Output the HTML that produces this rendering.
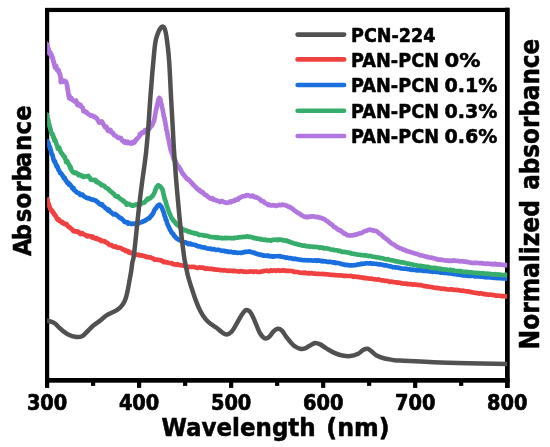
<!DOCTYPE html>
<html><head><meta charset="utf-8"><title>UV-vis absorbance</title>
<style>
html,body{margin:0;padding:0;background:#fff;}
body{width:550px;height:447px;overflow:hidden;}
svg{display:block;}
text{font-family:"DejaVu Sans","Liberation Sans",sans-serif;font-weight:bold;fill:#000;stroke:#000;stroke-width:0.55px;stroke-linejoin:round;}
</style></head><body>
<svg width="550" height="447" viewBox="0 0 550 447">
<rect width="550" height="447" fill="#fff"/>
<defs><clipPath id="c"><rect x="47.1" y="8" width="460.1" height="374"/></clipPath></defs>
<rect x="47.1" y="9.95" width="460.1" height="370.35" fill="none" stroke="#000" stroke-width="4.2"/>
<line x1="45" y1="380.35" x2="509.6" y2="380.35" stroke="#000" stroke-width="4.5"/>
<line x1="507.35" y1="7.85" x2="507.35" y2="387.9" stroke="#000" stroke-width="4.6"/>
<g stroke="#000" stroke-width="4.2"><line x1="47.10" y1="380.3" x2="47.10" y2="387.9"/><line x1="93.11" y1="380.3" x2="93.11" y2="385.9"/><line x1="139.12" y1="380.3" x2="139.12" y2="387.9"/><line x1="185.13" y1="380.3" x2="185.13" y2="385.9"/><line x1="231.14" y1="380.3" x2="231.14" y2="387.9"/><line x1="277.15" y1="380.3" x2="277.15" y2="385.9"/><line x1="323.16" y1="380.3" x2="323.16" y2="387.9"/><line x1="369.17" y1="380.3" x2="369.17" y2="385.9"/><line x1="415.18" y1="380.3" x2="415.18" y2="387.9"/><line x1="461.19" y1="380.3" x2="461.19" y2="385.9"/><line x1="507.20" y1="380.3" x2="507.20" y2="387.9"/></g>
<g clip-path="url(#c)" fill="none" stroke-width="4.5" stroke-linejoin="round" stroke-linecap="butt">
<path d="M46.5,197.6 L46.7,198.2 L46.9,200.5 L47.2,199.8 L47.5,199.8 L47.8,201.6 L48.2,202.7 L48.5,204.0 L48.9,204.4 L49.3,206.4 L49.7,206.9 L50.1,208.9 L50.5,208.8 L51.0,209.2 L51.5,210.7 L52.0,211.4 L52.5,211.1 L53.0,212.7 L53.6,212.8 L54.1,214.5 L54.6,214.4 L55.1,215.5 L55.7,215.8 L56.3,217.1 L56.9,218.7 L57.5,219.5 L58.1,219.2 L58.8,219.3 L59.4,221.0 L60.1,221.0 L60.9,221.4 L61.8,222.6 L62.6,222.1 L63.5,223.4 L64.4,224.1 L65.3,223.9 L66.2,223.8 L66.9,224.6 L67.6,226.1 L68.3,226.2 L69.0,227.3 L69.7,227.4 L70.3,227.9 L71.0,228.5 L71.6,229.0 L72.2,229.6 L73.1,230.6 L73.8,231.4 L74.5,231.2 L75.3,231.1 L76.3,231.6 L77.0,231.7 L77.8,231.4 L78.7,232.6 L79.6,232.6 L80.5,234.1 L81.5,233.5 L82.4,233.1 L83.4,234.2 L84.3,234.4 L85.2,235.1 L86.1,235.2 L87.0,236.3 L87.9,235.6 L88.8,236.2 L89.7,236.2 L90.6,236.5 L91.5,236.3 L92.4,237.5 L93.3,237.0 L94.1,238.0 L95.0,238.4 L95.8,238.7 L96.7,238.1 L97.6,239.2 L98.5,239.1 L99.4,239.8 L100.4,239.9 L101.2,241.1 L102.0,240.6 L102.8,240.9 L103.6,241.5 L104.5,241.2 L105.3,241.9 L106.2,242.4 L107.1,243.0 L107.9,243.3 L108.8,244.5 L109.7,245.0 L110.5,245.2 L111.3,245.0 L112.2,245.5 L113.0,246.4 L113.9,246.7 L114.7,246.6 L115.6,246.4 L116.4,247.3 L117.2,247.6 L118.1,247.6 L118.9,247.8 L119.8,247.7 L120.6,247.9 L121.4,248.3 L122.3,249.2 L123.1,249.6 L123.9,249.6 L124.8,250.1 L125.6,251.1 L126.5,250.6 L127.3,251.0 L128.1,251.1 L128.9,252.5 L129.8,252.2 L130.6,253.0 L131.5,253.2 L132.4,253.0 L133.3,253.6 L134.2,253.8 L135.1,254.1 L136.0,254.3 L136.9,254.7 L137.7,254.9 L138.6,254.7 L139.5,255.4 L140.4,255.2 L141.3,255.2 L142.2,255.6 L143.0,255.7 L143.9,256.0 L144.8,256.0 L145.7,256.8 L146.6,257.1 L147.4,256.8 L148.3,257.5 L149.2,257.4 L150.1,257.4 L151.0,257.5 L151.9,258.2 L152.8,258.4 L153.7,258.7 L154.6,259.8 L155.5,259.7 L156.4,259.6 L157.4,259.5 L158.3,259.9 L159.2,260.1 L160.1,260.4 L161.0,260.1 L161.9,261.0 L162.8,261.0 L163.8,262.2 L164.7,261.9 L165.6,262.3 L166.5,262.5 L167.4,262.4 L168.4,262.8 L169.3,262.9 L170.2,263.1 L171.1,263.4 L172.0,263.1 L173.0,264.1 L173.9,264.2 L174.8,264.2 L175.7,264.8 L176.6,264.4 L177.5,264.1 L178.5,264.9 L179.4,264.9 L180.3,265.2 L181.2,265.3 L182.1,265.5 L183.1,265.5 L184.0,265.9 L184.9,266.3 L185.8,266.4 L186.7,266.8 L187.7,266.8 L188.6,266.8 L189.5,266.9 L190.4,267.0 L191.3,267.0 L192.2,266.8 L193.1,266.9 L194.0,266.8 L194.9,267.2 L195.9,267.5 L196.8,267.7 L197.7,267.9 L198.6,267.7 L199.5,267.3 L200.4,267.6 L201.3,267.9 L202.2,267.6 L203.1,267.8 L204.1,267.9 L205.0,268.7 L205.9,268.8 L206.8,268.4 L207.7,268.5 L208.7,268.7 L209.6,268.9 L210.5,268.9 L211.4,268.7 L212.3,268.8 L213.3,269.4 L214.2,269.3 L215.1,269.6 L216.0,269.5 L216.9,269.6 L217.8,269.7 L218.8,269.7 L219.7,270.1 L220.6,270.1 L221.5,270.0 L222.4,270.1 L223.4,270.5 L224.3,270.1 L225.2,270.4 L226.1,270.6 L227.0,270.8 L228.0,270.9 L228.9,270.5 L229.8,270.8 L230.7,270.7 L231.6,270.9 L232.5,270.9 L233.5,271.1 L234.4,270.8 L235.3,271.0 L236.2,271.2 L237.1,271.2 L238.0,271.4 L238.9,271.6 L239.8,271.2 L240.7,271.3 L241.7,271.0 L242.6,271.4 L243.5,271.7 L244.4,271.5 L245.4,271.7 L246.3,271.9 L247.2,271.7 L248.1,271.7 L249.0,271.8 L250.0,271.5 L250.9,271.4 L251.8,271.6 L252.8,271.6 L253.8,271.9 L254.8,271.5 L255.8,271.5 L256.7,271.5 L257.6,272.0 L258.5,272.0 L259.3,272.0 L260.0,271.9 L261.1,271.8 L262.0,271.5 L262.8,271.4 L263.5,271.1 L264.2,271.0 L265.0,270.8 L265.9,270.7 L266.8,270.6 L267.6,271.0 L268.7,271.1 L270.0,270.9 L270.7,270.3 L271.5,270.6 L272.4,270.8 L273.3,270.7 L274.2,270.3 L275.2,270.5 L276.2,271.0 L277.1,270.6 L278.1,270.3 L279.1,270.5 L280.0,270.8 L280.9,270.7 L281.8,270.4 L282.7,270.2 L283.6,270.6 L284.5,270.4 L285.5,270.8 L286.4,271.0 L287.3,270.9 L288.2,270.9 L289.1,270.9 L290.0,270.9 L290.9,271.0 L291.8,271.0 L292.7,271.1 L293.6,271.7 L294.5,271.9 L295.5,271.8 L296.4,272.0 L297.3,272.0 L298.2,272.2 L299.1,272.5 L300.0,272.6 L300.9,272.7 L301.8,272.8 L302.7,272.9 L303.6,272.7 L304.5,273.0 L305.5,272.7 L306.4,273.1 L307.3,273.2 L308.2,273.3 L309.1,273.0 L310.0,273.5 L310.9,273.3 L311.8,273.1 L312.7,273.5 L313.6,273.6 L314.5,273.4 L315.5,273.7 L316.4,273.8 L317.3,273.8 L318.2,273.7 L319.1,274.0 L320.0,274.0 L320.9,274.0 L321.8,273.9 L322.7,274.0 L323.6,274.1 L324.5,274.0 L325.5,274.1 L326.4,274.5 L327.3,274.4 L328.2,274.5 L329.1,274.5 L330.0,274.7 L330.9,274.8 L331.8,274.8 L332.7,274.8 L333.6,275.0 L334.5,275.1 L335.4,275.0 L336.4,275.2 L337.3,275.3 L338.2,275.4 L339.1,275.4 L340.0,275.3 L340.9,275.5 L341.8,275.5 L342.8,275.6 L343.7,275.9 L344.6,275.9 L345.5,275.8 L346.4,275.9 L347.3,276.0 L348.3,276.0 L349.2,276.0 L350.1,276.0 L351.0,275.8 L351.9,276.2 L352.8,276.6 L353.7,276.4 L354.6,276.8 L355.6,276.6 L356.5,276.7 L357.4,277.0 L358.3,276.9 L359.2,277.0 L360.1,277.4 L361.0,277.3 L361.9,277.6 L362.8,278.0 L363.8,277.6 L364.7,278.0 L365.6,278.3 L366.5,278.1 L367.4,278.2 L368.4,278.5 L369.3,278.6 L370.2,278.9 L371.1,278.6 L372.0,278.8 L373.0,279.1 L373.9,279.2 L374.8,279.2 L375.7,279.5 L376.6,279.6 L377.5,279.5 L378.5,279.4 L379.4,279.8 L380.3,280.0 L381.2,280.2 L382.1,280.4 L383.1,280.3 L384.0,280.5 L384.9,280.9 L385.8,280.8 L386.7,280.8 L387.7,281.0 L388.6,281.4 L389.5,281.8 L390.4,281.8 L391.3,281.6 L392.2,281.9 L393.1,281.9 L394.0,282.2 L394.9,282.3 L395.9,282.4 L396.8,282.4 L397.7,282.8 L398.6,282.6 L399.5,282.8 L400.4,282.8 L401.3,283.2 L402.2,283.5 L403.1,283.5 L404.1,283.6 L405.0,283.6 L405.9,283.5 L406.8,283.8 L407.7,284.2 L408.7,284.0 L409.6,284.2 L410.5,284.0 L411.4,284.3 L412.3,284.6 L413.3,284.6 L414.2,284.3 L415.1,284.6 L416.0,284.6 L416.9,284.9 L417.8,284.9 L418.8,285.0 L419.7,285.1 L420.6,285.1 L421.5,285.3 L422.4,285.6 L423.4,285.7 L424.3,286.1 L425.2,286.1 L426.1,286.5 L427.1,286.3 L428.0,286.5 L428.9,286.7 L429.8,286.7 L430.7,287.0 L431.6,287.1 L432.4,287.3 L433.1,287.4 L433.8,287.6 L434.6,287.8 L435.3,287.8 L436.1,288.0 L437.0,287.9 L438.0,288.1 L439.1,288.2 L440.4,288.5 L441.1,288.6 L441.8,288.6 L442.6,288.7 L443.4,288.8 L444.2,288.7 L445.1,289.1 L446.0,289.1 L446.9,289.2 L447.8,289.4 L448.7,289.6 L449.7,289.5 L450.7,289.4 L451.6,289.4 L452.6,289.6 L453.6,289.8 L454.6,289.8 L455.6,289.8 L456.5,289.8 L457.5,290.0 L458.4,290.3 L459.4,290.4 L460.3,290.5 L461.2,290.7 L462.1,290.8 L463.0,290.6 L463.9,291.0 L464.9,291.0 L465.8,291.3 L466.7,291.3 L467.6,291.4 L468.5,291.4 L469.4,291.7 L470.3,292.0 L471.2,292.1 L472.2,292.4 L473.1,292.4 L474.0,292.7 L474.9,292.8 L475.8,292.9 L476.7,293.1 L477.7,293.1 L478.6,293.5 L479.5,293.6 L480.4,293.2 L481.3,293.3 L482.3,293.7 L483.3,294.0 L484.2,293.9 L485.2,294.5 L486.2,294.3 L487.3,294.5 L488.3,294.7 L489.3,294.6 L490.3,294.6 L491.3,294.8 L492.3,294.9 L493.2,295.2 L494.2,295.0 L495.1,295.4 L496.0,295.7 L496.9,295.6 L497.7,295.6 L498.5,295.7 L499.2,295.8 L499.9,295.7 L500.6,295.7 L502.2,296.3 L503.5,296.1 L504.6,296.3 L505.6,296.4 L506.3,296.5 L507.0,296.5 L507.5,296.4 L508.0,296.5" stroke="#F14040" stroke-width="4.65"/><path d="M46.5,139.6 L46.7,140.4 L46.9,140.8 L47.2,141.9 L47.5,141.3 L47.9,142.0 L48.2,142.6 L48.6,143.6 L49.0,146.0 L49.4,146.7 L49.7,146.8 L50.1,147.6 L50.4,149.7 L50.6,149.3 L50.9,150.3 L51.2,151.8 L51.5,153.4 L51.7,154.4 L52.0,154.2 L52.3,154.4 L52.6,155.2 L52.9,157.1 L53.2,158.0 L53.5,159.6 L53.8,160.3 L54.1,161.2 L54.5,160.8 L54.9,161.4 L55.3,163.0 L55.7,164.2 L56.1,164.4 L56.5,166.4 L57.0,165.6 L57.4,167.1 L57.8,167.5 L58.2,169.1 L58.7,170.1 L59.1,170.4 L59.6,171.6 L60.1,173.1 L60.6,172.8 L61.1,173.4 L61.6,174.0 L62.1,175.2 L62.6,175.6 L63.1,175.9 L63.7,178.0 L64.2,177.9 L64.8,177.8 L65.4,180.1 L66.0,180.1 L66.6,181.7 L67.3,183.0 L67.9,182.6 L68.5,182.9 L69.1,184.8 L69.7,184.1 L70.2,184.7 L71.0,185.8 L71.6,186.5 L72.2,188.3 L72.8,188.3 L73.4,187.9 L74.2,190.2 L74.8,190.6 L75.5,190.7 L76.3,192.2 L77.0,192.5 L77.8,192.9 L78.6,192.8 L79.4,193.5 L80.3,194.9 L81.0,195.0 L81.8,194.9 L82.6,194.6 L83.4,195.9 L84.2,196.3 L85.0,197.1 L85.8,197.4 L86.7,197.9 L87.5,197.9 L88.3,198.3 L89.2,198.3 L90.1,198.9 L91.0,199.3 L91.9,199.6 L92.8,199.4 L93.7,200.1 L94.6,200.3 L95.5,200.3 L96.4,201.1 L97.1,201.9 L97.9,202.0 L98.6,203.3 L99.3,203.5 L100.1,204.3 L100.8,204.7 L101.6,204.2 L102.3,204.5 L103.0,206.1 L103.8,206.5 L104.5,206.9 L105.2,207.9 L106.0,208.5 L106.7,209.0 L107.4,209.0 L108.1,210.5 L108.9,209.7 L109.6,211.3 L110.3,211.5 L111.0,212.5 L111.8,212.8 L112.5,213.3 L113.3,214.4 L114.1,214.1 L115.0,213.9 L115.8,214.9 L116.7,214.8 L117.5,215.9 L118.3,216.4 L119.1,217.4 L119.9,217.6 L120.6,218.4 L121.5,218.3 L122.3,219.4 L123.0,219.9 L123.8,220.9 L124.5,221.9 L125.2,221.9 L125.9,222.3 L126.6,222.0 L127.5,222.4 L128.2,223.7 L129.0,222.8 L129.7,223.3 L130.6,223.8 L131.7,224.1 L132.5,223.6 L133.3,223.6 L134.2,223.7 L135.1,223.9 L136.1,223.4 L137.1,223.1 L138.1,223.4 L139.0,223.2 L139.9,222.5 L140.7,222.5 L141.6,222.1 L142.5,221.9 L143.4,221.0 L144.1,221.2 L144.9,220.8 L145.7,220.0 L146.4,219.9 L147.1,219.2 L147.8,218.7 L148.5,218.3 L149.1,218.5 L149.8,217.7 L150.4,216.4 L151.0,216.3 L151.5,215.2 L152.1,214.9 L152.6,214.1 L153.1,213.4 L153.5,212.5 L154.0,211.2 L154.4,210.2 L154.8,209.5 L155.3,208.8 L155.7,208.4 L156.1,208.2 L156.8,206.7 L157.5,206.4 L158.2,205.4 L158.8,205.1 L159.5,204.6 L160.0,205.1 L160.5,205.8 L161.0,206.2 L161.5,206.9 L162.1,208.2 L162.6,209.7 L162.9,210.4 L163.1,210.7 L163.4,211.8 L163.7,212.4 L163.9,213.2 L164.2,214.6 L164.5,215.4 L164.8,216.2 L165.0,217.0 L165.3,217.0 L165.6,218.9 L165.9,220.1 L166.2,219.8 L166.5,220.5 L166.9,222.0 L167.2,223.5 L167.6,224.3 L167.9,225.2 L168.3,225.6 L168.6,226.3 L169.0,227.5 L169.4,227.9 L169.8,229.3 L170.2,230.1 L170.7,230.6 L171.1,231.2 L171.6,232.6 L172.1,233.0 L172.6,233.2 L173.1,234.0 L173.6,234.5 L174.1,235.8 L174.7,236.1 L175.3,236.9 L176.0,237.7 L176.7,238.6 L177.4,238.5 L178.1,239.5 L178.9,239.8 L179.7,240.3 L180.5,240.2 L181.4,241.2 L182.3,241.7 L183.1,242.1 L183.9,242.5 L184.8,242.4 L185.7,242.4 L186.7,243.2 L187.6,243.0 L188.6,244.2 L189.6,243.8 L190.5,243.5 L191.5,244.4 L192.4,244.5 L193.3,244.6 L194.2,244.8 L195.1,245.1 L196.0,245.1 L196.9,245.9 L197.9,246.3 L198.8,246.3 L199.7,246.3 L200.6,246.7 L201.5,247.2 L202.4,247.3 L203.3,247.3 L204.2,247.6 L205.1,247.4 L206.1,248.0 L207.0,248.5 L207.9,248.5 L208.8,248.7 L209.7,248.8 L210.7,248.5 L211.6,249.2 L212.5,249.4 L213.4,249.1 L214.3,249.3 L215.3,249.7 L216.2,249.9 L217.1,249.7 L218.0,249.7 L218.9,249.8 L219.8,250.3 L220.8,250.6 L221.7,250.8 L222.6,250.7 L223.5,250.9 L224.5,250.9 L225.4,251.4 L226.4,251.4 L227.3,251.4 L228.3,251.9 L229.2,251.8 L230.1,251.8 L231.0,251.8 L231.9,252.1 L232.7,252.5 L233.8,252.2 L234.8,252.7 L235.7,252.4 L236.6,252.5 L237.5,252.9 L238.5,252.7 L239.4,252.7 L240.4,252.7 L241.2,253.0 L242.1,252.8 L242.9,252.4 L243.8,252.1 L244.7,252.1 L245.6,251.7 L246.4,251.8 L247.3,251.8 L248.2,251.7 L249.1,251.3 L250.0,251.9 L250.9,251.8 L251.7,252.3 L252.6,252.5 L253.5,252.6 L254.4,252.6 L255.3,253.5 L256.2,253.5 L257.2,253.9 L258.1,254.3 L259.0,254.6 L259.8,254.4 L260.7,255.1 L261.6,254.9 L262.5,255.1 L263.4,255.7 L264.3,255.6 L265.3,255.7 L266.2,255.6 L267.2,255.9 L268.2,255.6 L269.1,256.1 L270.0,256.4 L270.9,256.3 L271.8,256.1 L272.7,256.6 L273.7,256.4 L274.6,256.3 L275.6,256.3 L276.5,256.2 L277.5,256.2 L278.4,256.1 L279.4,256.3 L280.3,256.2 L281.2,256.7 L282.2,256.7 L283.1,256.9 L284.0,257.1 L285.0,257.2 L285.9,257.8 L286.8,257.5 L287.7,257.8 L288.7,258.1 L289.6,258.1 L290.5,258.1 L291.5,258.2 L292.4,258.8 L293.3,258.7 L294.3,259.0 L295.2,258.7 L296.1,259.0 L297.1,259.3 L298.0,259.4 L298.9,259.6 L299.9,259.5 L300.8,259.9 L301.7,259.9 L302.6,260.1 L303.6,260.2 L304.5,260.1 L305.4,260.2 L306.4,260.3 L307.3,260.2 L308.3,260.4 L309.2,260.3 L310.2,260.2 L311.1,260.4 L312.0,260.5 L313.0,260.6 L313.9,260.6 L314.8,260.4 L315.6,260.4 L316.5,260.8 L317.5,260.6 L318.5,260.4 L319.4,260.5 L320.3,260.7 L321.2,261.2 L322.1,260.9 L323.0,261.4 L323.9,261.2 L324.8,261.3 L325.7,261.3 L326.6,261.8 L327.5,262.0 L328.4,261.8 L329.3,262.0 L330.2,261.8 L331.1,262.0 L332.0,262.3 L332.9,262.4 L333.9,262.6 L334.8,262.3 L335.7,263.1 L336.7,263.0 L337.5,262.9 L338.4,263.1 L339.3,263.2 L340.2,263.4 L341.1,264.0 L342.1,264.1 L343.0,264.4 L343.9,264.6 L344.8,265.0 L345.7,264.7 L346.5,264.7 L347.3,265.0 L348.1,265.3 L349.1,265.4 L350.1,265.3 L351.0,265.3 L351.9,265.5 L352.7,265.5 L353.6,265.0 L354.4,265.2 L355.2,265.2 L356.1,265.0 L357.0,264.8 L357.9,264.4 L358.8,264.5 L359.7,264.4 L360.6,264.3 L361.5,263.6 L362.4,263.9 L363.3,263.7 L364.2,263.7 L365.1,263.3 L366.0,263.4 L366.9,263.2 L367.8,263.3 L368.6,263.3 L369.5,263.4 L370.4,263.2 L371.3,263.6 L372.2,263.8 L373.1,263.6 L374.0,263.7 L374.8,263.7 L375.7,263.8 L376.6,263.9 L377.4,264.0 L378.4,264.4 L379.3,264.4 L380.3,264.4 L381.1,264.5 L382.0,264.7 L382.9,264.7 L383.8,265.2 L384.8,265.5 L385.7,265.3 L386.7,265.6 L387.6,265.8 L388.5,266.0 L389.5,266.4 L390.4,266.3 L391.3,266.6 L392.2,266.9 L393.1,267.3 L394.0,267.2 L394.9,267.3 L395.9,267.6 L396.8,267.4 L397.7,267.6 L398.6,268.0 L399.5,267.9 L400.4,268.2 L401.3,268.4 L402.2,268.5 L403.1,268.7 L404.1,268.7 L405.0,268.6 L405.9,268.7 L406.8,268.8 L407.7,269.2 L408.7,269.3 L409.6,269.3 L410.5,269.3 L411.4,270.0 L412.3,269.8 L413.3,269.6 L414.2,270.0 L415.1,270.0 L416.0,270.2 L416.9,270.4 L417.8,270.5 L418.8,270.3 L419.7,270.3 L420.6,270.4 L421.5,270.3 L422.4,270.4 L423.4,271.0 L424.3,270.8 L425.2,270.8 L426.1,270.9 L427.1,270.8 L428.0,271.2 L428.9,271.2 L429.8,271.4 L430.7,271.4 L431.6,271.2 L432.5,271.9 L433.4,271.8 L434.3,271.7 L435.1,271.7 L436.0,271.9 L436.9,272.0 L437.8,272.0 L438.6,272.1 L439.5,272.3 L440.4,272.6 L441.4,272.4 L442.3,272.6 L443.3,272.8 L444.2,273.0 L445.2,272.8 L446.1,272.8 L447.1,272.9 L448.0,273.2 L449.0,273.5 L450.0,273.4 L450.9,273.4 L451.7,273.5 L452.5,273.8 L453.3,273.8 L454.1,274.0 L454.9,274.2 L455.8,274.3 L456.8,274.5 L457.8,274.4 L459.0,274.7 L460.3,275.0 L461.0,275.0 L461.8,275.1 L462.5,275.3 L463.4,275.2 L464.2,275.5 L465.1,275.5 L466.0,275.6 L466.9,275.6 L467.8,275.6 L468.8,275.9 L469.7,275.8 L470.7,276.0 L471.7,275.6 L472.7,275.8 L473.7,276.0 L474.6,276.3 L475.6,276.3 L476.6,276.2 L477.6,276.5 L478.5,276.5 L479.5,276.5 L480.4,276.6 L481.3,276.6 L482.3,276.7 L483.3,276.9 L484.2,277.1 L485.2,276.7 L486.2,277.4 L487.3,277.2 L488.3,277.3 L489.3,277.2 L490.3,277.5 L491.3,277.5 L492.3,277.7 L493.2,277.7 L494.2,277.9 L495.1,277.7 L496.0,277.9 L496.9,278.1 L497.7,278.1 L498.5,277.8 L499.2,277.8 L499.9,278.2 L500.6,278.0 L502.2,278.4 L503.5,278.4 L504.6,278.5 L505.6,278.5 L506.3,278.6 L507.0,278.8 L507.5,278.8 L508.0,278.5" stroke="#1A6FDF" stroke-width="4.65"/><path d="M46.5,114.9 L46.6,114.6 L46.8,115.0 L47.0,114.7 L47.2,116.8 L47.5,118.2 L47.7,118.7 L48.0,119.8 L48.3,119.9 L48.6,123.1 L48.8,123.7 L49.1,124.0 L49.4,125.6 L49.6,126.4 L49.9,127.1 L50.1,127.8 L50.4,128.8 L50.6,130.1 L50.9,131.4 L51.2,132.4 L51.5,132.9 L51.8,134.1 L52.1,134.2 L52.4,133.9 L52.8,134.6 L53.1,137.2 L53.5,136.5 L53.9,137.7 L54.2,139.2 L54.6,140.9 L55.0,139.6 L55.4,140.6 L55.7,141.7 L56.1,142.6 L56.5,144.0 L57.0,145.6 L57.4,146.3 L57.8,148.7 L58.2,148.9 L58.7,147.4 L59.1,147.6 L59.6,149.1 L60.1,150.1 L60.6,151.9 L61.1,152.5 L61.6,153.4 L62.1,153.6 L62.6,154.6 L63.1,155.4 L63.6,155.8 L64.2,157.1 L64.7,156.7 L65.2,158.9 L65.7,159.7 L66.1,162.1 L66.6,161.3 L67.1,160.9 L67.6,162.1 L68.1,163.4 L68.5,163.9 L69.0,164.4 L69.4,165.7 L69.8,165.8 L70.2,168.0 L70.9,167.7 L71.3,169.7 L71.8,170.8 L72.4,171.2 L73.2,172.5 L73.8,172.4 L74.5,173.1 L75.2,172.5 L76.0,172.5 L76.9,173.3 L77.7,174.3 L78.6,175.3 L79.4,174.5 L80.3,175.0 L81.1,175.2 L82.0,176.4 L82.9,176.0 L83.8,177.1 L84.7,176.5 L85.6,176.4 L86.5,176.5 L87.4,176.2 L88.3,175.8 L89.1,177.2 L89.9,177.7 L90.7,179.6 L91.5,179.4 L92.3,179.9 L93.2,179.9 L94.0,180.1 L94.8,179.8 L95.6,180.2 L96.4,182.1 L97.2,181.8 L98.0,182.1 L98.8,183.2 L99.6,183.3 L100.5,183.7 L101.3,185.3 L102.1,185.2 L102.9,185.2 L103.7,185.7 L104.5,186.1 L105.2,187.1 L106.0,187.9 L106.7,188.0 L107.4,188.6 L108.1,188.6 L108.9,189.7 L109.6,190.9 L110.3,190.9 L111.0,191.8 L111.8,192.1 L112.5,192.8 L113.2,193.7 L114.0,193.8 L114.8,195.3 L115.5,196.1 L116.3,196.7 L117.1,196.3 L117.8,196.2 L118.5,197.2 L119.3,198.1 L119.9,198.6 L120.6,199.0 L121.4,199.7 L122.2,200.1 L123.0,201.1 L123.7,200.8 L124.4,201.9 L125.1,202.6 L125.9,202.6 L126.6,204.7 L127.4,204.0 L128.3,204.2 L129.1,203.9 L129.9,204.7 L130.8,205.0 L131.7,205.6 L132.7,205.1 L133.5,205.7 L134.4,204.8 L135.2,205.1 L136.2,204.4 L137.1,204.9 L138.0,205.2 L138.9,204.2 L139.8,204.6 L140.7,204.4 L141.5,203.3 L142.3,203.0 L143.0,202.7 L143.8,202.6 L144.6,202.5 L145.3,201.3 L146.1,200.5 L146.8,200.1 L147.5,198.8 L148.1,199.4 L149.0,198.7 L149.8,198.1 L150.5,198.2 L151.2,197.2 L151.9,196.4 L152.5,196.3 L153.1,195.2 L153.6,194.5 L154.0,193.5 L154.4,192.7 L154.8,191.8 L155.1,190.9 L155.4,189.5 L155.8,189.4 L156.1,188.2 L156.8,186.9 L157.4,186.4 L158.0,185.4 L158.7,185.4 L159.2,185.9 L159.8,186.2 L160.4,186.4 L161.0,187.5 L161.6,188.1 L162.2,189.0 L162.5,189.6 L162.7,190.8 L163.0,191.3 L163.2,192.8 L163.4,193.7 L163.7,194.6 L163.9,195.8 L164.1,196.8 L164.4,197.2 L164.6,199.2 L164.9,199.1 L165.2,200.4 L165.5,200.6 L165.7,201.9 L166.0,202.8 L166.2,203.4 L166.5,204.9 L166.8,205.7 L167.1,206.6 L167.4,207.1 L167.7,208.8 L168.0,209.2 L168.3,210.3 L168.6,210.5 L168.9,212.1 L169.2,212.5 L169.6,213.7 L170.0,214.3 L170.4,215.2 L170.8,216.2 L171.2,216.9 L171.7,218.4 L172.1,218.6 L172.6,219.2 L173.1,220.4 L173.6,220.9 L174.2,221.2 L174.8,222.0 L175.3,223.0 L176.0,223.5 L176.6,224.5 L177.3,224.5 L177.9,225.4 L178.6,225.7 L179.3,226.4 L180.1,226.9 L180.8,227.3 L181.5,228.8 L182.3,228.8 L183.1,229.3 L183.8,229.7 L184.6,230.5 L185.4,230.2 L186.3,230.3 L187.1,231.1 L187.9,231.1 L188.8,232.0 L189.7,231.7 L190.6,232.1 L191.5,232.7 L192.4,232.5 L193.3,232.9 L194.2,233.4 L195.1,233.2 L196.0,233.7 L196.9,233.6 L197.9,234.1 L198.8,234.9 L199.8,235.1 L200.7,234.9 L201.7,235.0 L202.6,235.0 L203.6,235.6 L204.5,235.8 L205.4,235.5 L206.3,235.7 L207.2,235.7 L208.1,236.3 L209.0,236.5 L209.9,236.7 L210.8,236.9 L211.7,237.1 L212.6,237.1 L213.6,237.3 L214.5,237.2 L215.5,237.6 L216.5,237.8 L217.4,237.1 L218.3,238.0 L219.3,237.8 L220.3,238.0 L221.3,237.9 L222.3,238.3 L223.3,238.0 L224.3,238.1 L225.3,237.9 L226.2,238.0 L227.2,238.2 L228.1,237.9 L229.0,238.0 L229.9,238.0 L230.7,238.1 L231.8,238.3 L232.9,238.1 L233.9,238.3 L234.8,237.8 L235.7,237.8 L236.6,237.7 L237.5,237.5 L238.3,237.6 L239.1,237.3 L240.0,237.2 L241.0,237.3 L241.9,237.0 L242.8,236.9 L243.7,236.8 L244.6,236.9 L245.5,236.9 L246.3,236.6 L247.2,236.3 L248.1,236.6 L249.0,237.0 L249.8,236.7 L250.7,236.8 L251.5,237.4 L252.4,237.4 L253.3,237.6 L254.2,238.2 L255.1,238.0 L256.1,238.6 L256.9,238.4 L257.8,238.8 L258.7,238.9 L259.6,238.9 L260.5,239.4 L261.5,239.1 L262.4,239.6 L263.4,239.7 L264.3,240.0 L265.3,239.7 L266.2,240.1 L267.1,240.5 L268.0,240.0 L269.0,240.0 L269.9,240.2 L270.8,240.7 L271.7,240.1 L272.6,239.8 L273.6,239.8 L274.5,239.8 L275.4,239.7 L276.3,239.5 L277.2,240.1 L278.1,239.6 L279.0,239.8 L279.9,239.6 L280.8,239.5 L281.8,240.1 L282.7,239.9 L283.6,240.4 L284.5,240.5 L285.4,240.4 L286.3,240.9 L287.1,240.7 L288.0,241.3 L288.8,241.7 L289.7,241.6 L290.5,242.1 L291.3,242.7 L292.2,242.8 L293.0,242.8 L293.9,243.5 L294.7,243.6 L295.6,243.9 L296.4,243.8 L297.3,244.3 L298.2,244.6 L299.2,244.5 L300.1,245.0 L301.0,245.1 L301.9,245.5 L302.8,245.7 L303.8,245.5 L304.7,245.5 L305.6,246.1 L306.5,246.2 L307.4,246.1 L308.3,246.5 L309.2,246.6 L310.1,246.6 L311.0,246.5 L312.0,246.5 L312.9,246.9 L313.8,246.8 L314.7,246.8 L315.6,247.1 L316.5,246.9 L317.4,247.1 L318.3,247.3 L319.2,247.9 L320.2,247.3 L321.1,247.6 L322.0,247.7 L322.9,247.6 L323.8,248.4 L324.8,248.5 L325.7,248.3 L326.6,248.4 L327.5,248.6 L328.4,248.8 L329.3,248.9 L330.1,249.2 L331.0,249.5 L331.9,249.6 L332.8,249.9 L333.7,249.7 L334.7,250.3 L335.7,250.2 L336.7,250.3 L337.5,250.5 L338.3,250.9 L339.2,251.0 L340.1,250.9 L341.0,251.3 L342.0,251.8 L342.9,251.8 L343.9,251.8 L344.8,251.9 L345.8,252.2 L346.7,252.2 L347.6,252.5 L348.5,252.5 L349.3,252.9 L350.1,252.9 L351.1,253.4 L352.1,253.6 L353.1,253.6 L354.0,254.0 L354.9,254.2 L355.7,254.0 L356.6,254.5 L357.5,254.6 L358.3,254.7 L359.2,254.7 L360.1,254.8 L361.0,255.1 L361.9,255.0 L362.8,255.1 L363.8,255.4 L364.7,255.2 L365.6,255.2 L366.5,255.6 L367.4,255.8 L368.4,256.1 L369.3,256.0 L370.2,255.9 L371.1,256.3 L372.0,256.5 L373.0,256.7 L373.9,256.8 L374.8,257.0 L375.7,257.2 L376.6,257.2 L377.5,257.5 L378.5,257.5 L379.4,257.7 L380.3,258.1 L381.2,258.1 L382.1,258.1 L383.1,258.4 L384.0,258.8 L384.9,259.1 L385.8,259.2 L386.7,259.5 L387.7,259.1 L388.6,259.6 L389.5,259.9 L390.4,260.0 L391.3,260.3 L392.2,260.3 L393.1,260.5 L394.0,260.9 L394.9,260.8 L395.9,261.4 L396.8,261.4 L397.7,261.4 L398.6,262.0 L399.5,261.8 L400.4,262.2 L401.3,262.4 L402.2,262.3 L403.1,262.5 L404.1,262.8 L405.0,262.9 L405.9,263.1 L406.8,263.5 L407.7,263.6 L408.7,263.6 L409.6,263.9 L410.5,264.3 L411.4,264.2 L412.3,264.4 L413.3,264.8 L414.2,265.0 L415.1,265.0 L416.0,265.2 L416.9,265.4 L417.8,265.8 L418.8,265.9 L419.7,265.9 L420.6,265.8 L421.5,266.0 L422.4,266.2 L423.4,266.3 L424.3,266.5 L425.2,266.7 L426.1,266.8 L427.1,266.9 L428.0,266.9 L428.9,267.0 L429.8,267.6 L430.7,267.8 L431.6,267.8 L432.4,267.9 L433.1,267.9 L433.8,267.8 L434.6,268.1 L435.3,267.9 L436.1,268.2 L437.0,268.2 L438.0,268.4 L439.1,268.8 L440.4,268.8 L441.1,268.9 L441.8,269.1 L442.6,269.2 L443.4,269.4 L444.2,269.4 L445.1,269.6 L446.0,269.5 L446.9,269.6 L447.8,269.9 L448.7,270.1 L449.7,269.9 L450.7,269.9 L451.6,270.1 L452.6,270.5 L453.6,270.4 L454.6,270.7 L455.6,271.1 L456.5,271.0 L457.5,271.0 L458.4,271.1 L459.4,271.3 L460.3,271.1 L461.2,271.2 L462.1,271.5 L463.0,271.9 L463.9,272.1 L464.9,271.9 L465.8,272.0 L466.7,271.8 L467.6,272.0 L468.5,272.2 L469.4,272.2 L470.3,272.4 L471.2,272.4 L472.2,272.6 L473.1,272.8 L474.0,272.7 L474.9,272.9 L475.8,273.0 L476.7,272.9 L477.7,273.1 L478.6,273.1 L479.5,273.1 L480.4,273.2 L481.3,273.3 L482.3,273.2 L483.3,273.7 L484.2,273.3 L485.2,273.7 L486.2,273.7 L487.3,273.6 L488.3,273.8 L489.3,273.8 L490.3,273.9 L491.3,274.3 L492.3,274.3 L493.2,274.3 L494.2,274.4 L495.1,274.1 L496.0,274.6 L496.9,274.6 L497.7,274.4 L498.5,274.6 L499.2,274.8 L499.9,274.6 L500.6,274.7 L502.2,275.1 L503.5,275.1 L504.6,275.0 L505.6,274.9 L506.3,274.7 L507.0,274.7 L507.5,274.9 L508.0,274.9" stroke="#37AD6B" stroke-width="4.65"/><path d="M46.2,46.0 L46.4,43.6 L46.7,44.3 L47.1,44.5 L47.4,45.0 L47.8,48.8 L48.2,48.5 L48.6,48.9 L49.0,51.4 L49.3,53.6 L49.7,53.5 L50.1,53.9 L50.4,52.3 L50.8,55.4 L51.2,56.3 L51.5,54.5 L51.8,55.3 L52.1,57.9 L52.4,57.1 L52.7,57.8 L53.0,58.8 L53.3,61.8 L53.6,61.3 L53.9,62.6 L54.3,64.6 L54.7,66.5 L55.0,67.5 L55.4,67.9 L55.8,68.3 L56.2,65.8 L56.5,68.1 L57.3,70.5 L58.0,70.8 L58.6,70.0 L58.9,71.8 L59.1,72.1 L59.3,73.2 L59.5,73.8 L59.7,73.9 L59.9,73.8 L60.2,74.9 L60.5,77.0 L60.8,82.2 L61.1,78.2 L61.6,80.6 L62.4,81.9 L63.4,81.8 L64.4,80.8 L65.2,81.1 L65.6,81.9 L66.0,81.7 L66.4,82.5 L66.7,83.9 L66.9,85.1 L67.2,86.4 L67.4,86.1 L67.5,89.1 L67.6,89.8 L67.7,89.7 L67.8,89.2 L68.0,90.1 L68.1,92.0 L68.2,93.2 L68.4,93.5 L68.6,96.2 L68.9,94.8 L69.1,98.1 L69.5,95.9 L70.1,98.8 L70.7,98.2 L71.5,98.0 L72.2,99.9 L73.0,100.5 L73.8,100.7 L74.7,101.5 L75.5,101.0 L76.1,100.5 L76.6,102.3 L77.1,104.4 L77.6,105.1 L78.3,103.6 L78.8,104.3 L79.4,105.3 L80.0,106.1 L80.7,105.0 L81.3,106.6 L82.0,107.3 L82.8,107.7 L83.5,111.2 L84.2,111.0 L85.0,111.4 L85.8,112.4 L86.7,112.2 L87.5,113.4 L88.3,114.1 L89.1,114.5 L89.9,114.7 L90.7,115.7 L91.5,115.7 L92.3,115.5 L93.1,116.3 L93.9,117.0 L94.7,116.6 L95.5,117.7 L96.2,117.7 L96.9,118.7 L97.6,119.8 L98.3,121.2 L99.1,122.7 L99.8,122.7 L100.5,121.6 L101.2,122.4 L101.9,121.4 L102.5,123.0 L103.2,123.6 L103.8,125.1 L104.5,126.1 L105.1,127.4 L105.7,127.5 L106.4,126.7 L107.0,127.9 L107.7,130.6 L108.3,130.4 L109.0,131.0 L109.7,131.3 L110.4,129.8 L111.1,131.7 L111.8,132.7 L112.5,132.5 L113.2,133.4 L113.9,135.1 L114.6,135.3 L115.4,135.8 L116.2,136.1 L117.0,136.9 L117.9,137.7 L118.7,138.0 L119.5,137.7 L120.3,138.2 L121.0,138.1 L121.9,140.3 L122.8,140.5 L123.7,141.9 L124.5,142.5 L125.3,141.4 L126.1,142.2 L127.0,143.1 L128.0,141.8 L128.8,143.1 L129.7,143.3 L130.5,143.0 L131.4,143.6 L132.3,142.2 L133.2,142.5 L134.0,142.8 L134.7,141.2 L135.3,141.4 L136.0,139.6 L136.6,138.9 L137.3,138.8 L137.8,137.9 L138.4,137.3 L138.9,136.8 L139.4,136.3 L139.9,134.1 L140.5,134.8 L141.2,133.3 L141.9,132.9 L142.6,132.1 L143.4,132.8 L144.1,131.9 L145.0,130.1 L145.9,130.1 L146.8,130.0 L147.6,129.8 L148.4,129.5 L149.1,129.1 L149.8,128.0 L150.5,127.2 L151.0,126.5 L151.4,125.6 L151.9,125.7 L152.4,124.4 L152.9,123.4 L153.3,122.6 L153.7,121.0 L154.0,121.2 L154.2,119.7 L154.4,119.3 L154.6,117.7 L154.8,117.3 L155.0,115.9 L155.2,114.4 L155.4,113.4 L155.6,111.8 L155.8,112.1 L156.0,110.3 L156.2,108.9 L156.4,109.3 L156.6,107.8 L156.8,107.2 L157.0,106.0 L157.2,104.3 L157.4,104.0 L157.6,104.0 L157.9,102.1 L158.2,100.0 L158.5,100.2 L158.8,99.0 L159.1,98.5 L159.4,97.9 L159.7,98.6 L160.0,98.7 L160.3,99.2 L160.7,101.6 L161.0,102.8 L161.3,104.6 L161.5,104.1 L161.7,105.3 L161.8,105.6 L162.0,107.8 L162.2,107.7 L162.4,109.0 L162.6,109.1 L162.8,110.3 L163.0,111.4 L163.2,112.7 L163.4,113.5 L163.5,114.9 L163.7,115.5 L163.9,116.8 L164.1,116.9 L164.3,118.1 L164.5,118.0 L164.7,120.0 L164.9,120.7 L165.0,120.5 L165.2,122.5 L165.4,123.2 L165.6,125.2 L165.8,125.4 L166.0,126.5 L166.2,127.5 L166.3,128.7 L166.5,130.3 L166.7,130.5 L166.9,130.9 L167.1,132.2 L167.2,132.9 L167.4,133.7 L167.6,134.7 L167.8,135.0 L167.9,136.8 L168.1,137.7 L168.3,138.4 L168.5,139.2 L168.7,140.0 L168.9,141.3 L169.1,141.8 L169.2,142.7 L169.4,144.1 L169.6,144.5 L169.8,145.9 L170.0,146.5 L170.2,147.4 L170.3,148.3 L170.5,149.3 L170.7,149.9 L171.0,150.4 L171.3,151.5 L171.6,152.7 L171.9,153.3 L172.2,153.3 L172.5,154.2 L172.8,155.6 L173.2,157.1 L173.5,158.2 L173.8,159.6 L174.3,159.0 L174.9,159.7 L175.3,160.6 L175.6,161.5 L176.1,162.4 L176.5,163.9 L177.0,164.2 L177.5,165.5 L178.0,166.2 L178.5,166.6 L179.0,166.7 L179.5,168.3 L180.0,169.1 L180.5,169.0 L181.0,171.0 L181.5,171.2 L182.0,172.2 L182.5,173.5 L183.0,174.0 L183.5,174.3 L184.0,174.9 L184.5,175.9 L185.0,176.5 L185.6,176.9 L186.2,178.0 L186.8,178.9 L187.4,179.0 L188.0,179.1 L188.7,180.1 L189.5,180.2 L190.4,181.5 L190.9,182.4 L191.5,182.7 L192.1,182.9 L192.7,184.6 L193.4,184.7 L194.1,185.7 L194.8,186.3 L195.5,186.6 L196.2,188.1 L196.9,188.2 L197.6,189.1 L198.3,189.7 L199.0,190.5 L199.7,190.2 L200.4,191.2 L201.2,192.0 L201.9,192.4 L202.7,192.1 L203.5,193.2 L204.3,194.1 L205.1,195.0 L205.8,195.1 L206.6,195.3 L207.4,196.5 L208.2,197.0 L208.9,197.3 L209.7,198.2 L210.5,198.5 L211.4,198.9 L212.4,198.3 L213.4,199.8 L214.4,199.6 L215.4,199.9 L216.4,200.6 L217.3,200.6 L218.2,200.9 L219.1,201.2 L219.9,202.0 L220.6,201.7 L221.9,200.9 L223.0,201.7 L223.8,202.1 L224.6,202.4 L225.5,202.4 L226.4,202.8 L227.2,202.8 L228.1,202.7 L229.0,202.2 L230.0,201.5 L230.8,202.1 L231.7,201.6 L232.6,201.1 L233.6,200.8 L234.5,201.0 L235.5,199.7 L236.4,199.9 L237.2,199.5 L238.0,199.7 L238.8,198.1 L239.6,198.2 L240.3,197.7 L241.1,197.0 L241.9,196.7 L242.7,196.4 L243.6,196.3 L244.5,196.2 L245.4,195.9 L246.4,195.1 L247.3,195.3 L248.2,195.3 L249.1,195.5 L250.0,196.1 L250.9,196.4 L251.8,195.7 L252.8,195.5 L253.7,196.8 L254.6,196.7 L255.5,197.4 L256.3,197.1 L257.1,197.8 L257.9,198.0 L258.7,198.6 L259.5,198.9 L260.3,199.7 L261.1,200.9 L261.9,200.8 L262.7,201.2 L263.5,201.3 L264.3,202.5 L265.0,203.0 L265.8,203.4 L266.6,203.7 L267.4,204.2 L268.2,205.0 L269.1,204.5 L270.0,205.0 L270.9,205.6 L271.8,205.4 L272.7,205.2 L273.6,205.4 L274.6,205.4 L275.5,205.6 L276.5,206.0 L277.5,205.5 L278.5,205.0 L279.5,204.9 L280.5,205.2 L281.5,205.2 L282.3,204.6 L283.3,204.7 L284.1,204.9 L284.9,205.1 L285.7,205.4 L286.5,205.6 L287.4,206.1 L288.1,206.4 L288.9,207.1 L289.7,206.8 L290.5,207.5 L291.3,208.0 L292.2,208.7 L293.0,209.1 L293.8,210.2 L294.5,210.6 L295.2,211.0 L295.9,211.3 L296.6,212.0 L297.4,212.4 L298.1,213.1 L298.8,213.2 L299.5,213.6 L300.2,214.0 L301.1,215.1 L302.0,215.5 L302.8,215.8 L303.7,216.4 L304.6,216.8 L305.5,216.7 L306.5,217.2 L307.4,217.3 L308.3,216.8 L309.3,216.6 L310.3,216.9 L311.3,216.6 L312.3,216.3 L313.2,216.4 L314.1,216.5 L315.1,217.0 L316.0,216.8 L316.9,217.2 L317.8,216.8 L318.7,217.3 L319.6,217.8 L320.5,217.7 L321.3,218.0 L322.1,218.5 L322.9,218.6 L323.7,218.7 L324.5,219.2 L325.3,219.9 L326.1,220.7 L326.9,220.9 L327.6,221.4 L328.3,222.0 L329.0,222.7 L329.7,223.4 L330.4,223.7 L331.1,224.3 L331.8,224.5 L332.5,225.2 L333.2,226.1 L333.9,226.8 L334.6,226.9 L335.3,227.3 L336.0,227.9 L336.8,228.7 L337.5,229.1 L338.2,229.9 L338.9,229.9 L339.6,230.5 L340.4,230.4 L341.2,231.2 L342.1,232.1 L342.9,232.3 L343.7,233.2 L344.5,233.7 L345.3,233.6 L346.0,234.2 L346.9,235.0 L347.7,235.3 L348.6,235.3 L349.4,235.4 L350.2,235.6 L351.1,235.4 L352.0,235.4 L352.9,235.3 L353.8,234.9 L354.8,235.0 L355.7,234.5 L356.6,234.7 L357.5,234.0 L358.5,233.7 L359.4,233.5 L360.3,233.3 L361.2,233.2 L362.1,232.6 L363.0,232.3 L363.9,231.5 L364.8,231.1 L365.7,230.9 L366.6,230.7 L367.4,230.3 L368.2,230.1 L369.2,229.8 L370.1,229.6 L371.1,230.0 L372.2,230.4 L373.0,230.2 L373.8,230.7 L374.7,230.8 L375.6,230.8 L376.5,231.2 L377.4,231.7 L378.3,232.6 L379.1,233.2 L379.8,234.0 L380.6,234.2 L381.3,234.7 L382.0,235.4 L382.8,236.1 L383.5,236.9 L384.3,237.6 L385.0,237.9 L385.7,238.6 L386.3,238.9 L387.0,239.5 L387.7,240.2 L388.4,240.5 L389.0,241.4 L389.7,241.8 L390.4,242.4 L391.2,243.3 L391.9,243.6 L392.7,243.9 L393.4,244.3 L394.1,244.6 L394.9,245.5 L395.6,245.7 L396.4,246.5 L397.3,247.0 L398.1,247.3 L399.0,247.7 L399.9,248.2 L400.8,248.6 L401.6,248.8 L402.5,249.2 L403.3,249.7 L404.2,249.8 L405.0,250.1 L405.8,250.8 L406.6,250.7 L407.5,251.2 L408.5,251.5 L409.3,251.6 L410.2,252.0 L411.0,252.3 L412.0,252.6 L412.9,252.9 L413.8,253.1 L414.8,253.5 L415.7,253.5 L416.6,253.9 L417.5,254.1 L418.4,254.5 L419.3,255.0 L420.2,255.4 L421.0,255.3 L421.9,255.5 L422.8,255.7 L423.7,256.1 L424.6,256.3 L425.5,256.4 L426.4,256.8 L427.3,256.7 L428.2,257.3 L429.1,257.4 L430.0,257.6 L430.9,257.5 L431.8,257.7 L432.7,258.1 L433.6,258.1 L434.5,258.5 L435.3,258.7 L436.2,258.8 L437.0,259.2 L437.9,259.7 L438.8,259.6 L439.7,259.4 L440.7,259.9 L441.6,259.7 L442.5,260.0 L443.4,260.0 L444.4,260.5 L445.3,260.5 L446.3,260.6 L447.3,260.4 L448.2,260.6 L449.2,260.9 L450.2,260.9 L451.1,260.6 L452.0,261.0 L452.9,260.8 L453.8,260.4 L454.8,260.6 L455.7,260.9 L456.6,261.0 L457.5,260.8 L458.5,261.0 L459.4,261.3 L460.3,261.4 L461.2,261.2 L462.1,261.2 L463.1,261.3 L464.0,261.7 L464.9,261.6 L465.8,262.0 L466.7,261.6 L467.7,262.0 L468.6,262.3 L469.5,262.3 L470.4,262.7 L471.3,262.8 L472.2,263.1 L473.1,262.9 L474.0,263.0 L474.9,262.9 L475.9,262.8 L476.8,263.0 L477.7,262.9 L478.6,263.1 L479.5,263.3 L480.4,263.2 L481.3,263.0 L482.2,263.6 L483.1,263.3 L484.1,263.6 L485.0,263.7 L485.9,263.7 L486.8,263.6 L487.7,263.4 L488.7,263.7 L489.6,263.9 L490.5,263.8 L491.4,263.8 L492.4,264.3 L493.3,264.0 L494.3,264.5 L495.2,263.7 L496.2,264.3 L497.1,264.3 L498.0,264.6 L498.9,264.6 L499.8,264.3 L500.6,264.6 L501.7,264.7 L502.8,264.7 L503.9,265.0 L504.9,265.2 L505.9,264.9 L506.7,265.5 L507.4,265.4 L508.0,265.6" stroke="#B177DE" stroke-width="4.65"/><path d="M46.5,320.4 C47.8,320.8 51.8,321.5 54.1,322.9 C56.4,324.2 57.8,326.6 60.1,328.5 C62.5,330.4 65.5,333.1 68.2,334.5 C70.9,335.9 74.0,336.7 76.3,337.0 C78.6,337.3 80.3,337.2 82.3,336.1 C84.3,335.0 86.4,332.3 88.3,330.5 C90.2,328.7 91.4,327.2 93.4,325.5 C95.4,323.8 98.2,322.1 100.4,320.4 C102.6,318.7 104.3,316.8 106.5,315.4 C108.7,313.9 111.7,312.7 113.6,311.7 C115.5,310.7 116.6,310.4 118.1,309.2 C119.6,308.0 121.2,306.5 122.5,304.7 C123.8,302.9 124.8,300.9 125.7,298.4 C126.6,295.8 127.3,292.4 127.9,289.4 C128.5,286.4 129.0,283.5 129.5,280.5 C130.0,277.5 130.6,274.6 131.1,271.6 C131.6,268.6 131.9,265.2 132.3,262.6 C132.8,260.0 133.1,261.4 133.8,256.0 C134.5,250.6 135.7,238.8 136.6,230.0 C137.5,221.2 138.5,211.3 139.5,203.0 C140.5,194.7 141.3,188.3 142.4,180.0 C143.5,171.7 145.0,162.2 146.0,153.0 C147.0,143.8 147.8,133.8 148.5,125.0 C149.2,116.2 149.5,108.8 150.2,100.0 C150.8,91.2 151.8,79.8 152.4,72.0 C153.1,64.2 153.6,58.5 154.1,53.2 C154.6,48.0 155.0,44.0 155.7,40.5 C156.4,37.0 157.4,34.6 158.2,32.5 C159.0,30.4 159.9,29.0 160.7,28.0 C161.5,27.0 162.3,26.6 162.9,26.6 C163.5,26.6 163.9,26.8 164.4,27.9 C164.9,28.9 165.4,30.8 165.8,32.9 C166.2,35.0 166.6,37.1 167.0,40.5 C167.4,43.9 168.0,48.0 168.5,53.2 C169.0,58.5 169.4,64.2 169.8,72.0 C170.2,79.8 170.7,91.2 171.2,100.0 C171.7,108.8 172.1,116.3 172.6,125.0 C173.1,133.7 173.5,143.2 174.1,152.0 C174.7,160.8 175.3,169.5 176.0,178.0 C176.7,186.5 177.4,194.3 178.2,203.0 C179.0,211.7 179.8,221.2 180.8,230.0 C181.8,238.8 183.2,249.9 184.0,256.0 C184.8,262.1 185.2,262.8 185.9,266.5 C186.7,270.2 187.5,274.4 188.5,278.0 C189.5,281.6 190.5,284.6 191.7,288.2 C192.9,291.8 194.1,295.8 195.5,299.6 C196.9,303.4 198.6,307.7 200.3,311.0 C202.0,314.3 203.9,317.1 205.6,319.2 C207.3,321.3 208.7,322.4 210.5,323.8 C212.3,325.2 214.2,326.1 216.2,327.5 C218.1,328.9 220.4,331.2 222.2,332.4 C223.9,333.5 225.2,334.5 226.7,334.4 C228.2,334.3 229.7,333.7 231.3,332.0 C232.9,330.3 234.6,327.1 236.3,324.3 C238.0,321.5 240.0,317.6 241.4,315.3 C242.8,313.1 243.8,311.7 244.8,310.8 C245.8,309.9 246.5,310.0 247.4,310.2 C248.3,310.4 249.2,310.5 250.4,312.2 C251.6,313.9 253.0,316.9 254.5,320.3 C256.0,323.7 258.0,329.5 259.5,332.4 C261.0,335.2 262.3,336.4 263.5,337.4 C264.7,338.4 265.6,338.6 266.6,338.4 C267.6,338.2 268.4,337.6 269.6,336.4 C270.8,335.2 272.3,332.7 273.6,331.4 C274.9,330.1 276.2,329.0 277.6,328.8 C279.0,328.6 280.2,329.0 281.7,330.4 C283.2,331.8 285.0,335.2 286.7,337.4 C288.4,339.6 290.3,342.0 291.7,343.5 C293.1,345.0 293.6,345.5 295.0,346.4 C296.4,347.3 298.4,348.5 300.1,348.8 C301.8,349.1 303.4,349.0 305.1,348.4 C306.8,347.8 308.4,346.3 310.1,345.4 C311.8,344.5 313.5,343.2 315.2,343.0 C316.9,342.8 318.3,343.5 320.2,344.4 C322.1,345.3 323.9,347.0 326.3,348.4 C328.7,349.8 331.6,351.7 334.3,352.9 C337.0,354.1 339.7,355.0 342.4,355.5 C345.1,356.0 347.9,356.3 350.4,356.1 C352.9,355.9 355.3,355.2 357.5,354.1 C359.7,353.1 361.8,350.7 363.5,349.8 C365.2,348.9 366.2,348.5 367.6,348.8 C369.0,349.1 370.1,350.3 371.6,351.4 C373.1,352.5 374.4,354.3 376.6,355.5 C378.8,356.7 382.0,357.8 384.7,358.5 C387.4,359.2 390.1,359.5 392.7,359.9 C395.2,360.2 392.1,360.2 400.0,360.6 C407.9,361.0 426.9,362.0 440.3,362.5 C453.7,363.0 469.3,363.3 480.6,363.5 C491.9,363.7 503.4,363.8 508.0,363.9" stroke="#515151"/>
</g>
<text x="47.10" y="409.9" text-anchor="middle" font-size="20.4" style="stroke-width:0.7px" textLength="40.4" lengthAdjust="spacingAndGlyphs">300</text><text x="139.12" y="409.9" text-anchor="middle" font-size="20.4" style="stroke-width:0.7px" textLength="40.4" lengthAdjust="spacingAndGlyphs">400</text><text x="231.14" y="409.9" text-anchor="middle" font-size="20.4" style="stroke-width:0.7px" textLength="40.4" lengthAdjust="spacingAndGlyphs">500</text><text x="323.16" y="409.9" text-anchor="middle" font-size="20.4" style="stroke-width:0.7px" textLength="40.4" lengthAdjust="spacingAndGlyphs">600</text><text x="415.18" y="409.9" text-anchor="middle" font-size="20.4" style="stroke-width:0.7px" textLength="40.4" lengthAdjust="spacingAndGlyphs">700</text><text x="507.20" y="409.9" text-anchor="middle" font-size="20.4" style="stroke-width:0.7px" textLength="40.4" lengthAdjust="spacingAndGlyphs">800</text>
<line x1="297.6" y1="34.6" x2="344.1" y2="34.6" stroke="#515151" stroke-width="4.6" stroke-linecap="round"/><text x="351.00" y="41.9" font-size="19" textLength="84.50" lengthAdjust="spacingAndGlyphs">PCN-224</text><line x1="297.6" y1="59.4" x2="344.1" y2="59.4" stroke="#F14040" stroke-width="4.6" stroke-linecap="round"/><text y="66.7" font-size="19"><tspan x="351.00" textLength="88.00" lengthAdjust="spacingAndGlyphs">PAN-PCN</tspan> <tspan x="444.50" textLength="36.00" lengthAdjust="spacingAndGlyphs">0%</tspan></text><line x1="297.6" y1="85.0" x2="344.1" y2="85.0" stroke="#1A6FDF" stroke-width="4.6" stroke-linecap="round"/><text y="92.3" font-size="19"><tspan x="351.00" textLength="88.00" lengthAdjust="spacingAndGlyphs">PAN-PCN</tspan> <tspan x="444.50" textLength="53.00" lengthAdjust="spacingAndGlyphs">0.1%</tspan></text><line x1="297.6" y1="110.7" x2="344.1" y2="110.7" stroke="#37AD6B" stroke-width="4.6" stroke-linecap="round"/><text y="118.0" font-size="19"><tspan x="351.00" textLength="88.00" lengthAdjust="spacingAndGlyphs">PAN-PCN</tspan> <tspan x="444.50" textLength="53.00" lengthAdjust="spacingAndGlyphs">0.3%</tspan></text><line x1="297.6" y1="136.0" x2="344.1" y2="136.0" stroke="#B177DE" stroke-width="4.6" stroke-linecap="round"/><text y="143.3" font-size="19"><tspan x="351.00" textLength="88.00" lengthAdjust="spacingAndGlyphs">PAN-PCN</tspan> <tspan x="444.50" textLength="53.00" lengthAdjust="spacingAndGlyphs">0.6%</tspan></text>
<text y="435.9" font-size="24.4"><tspan x="161.5" textLength="154.2" lengthAdjust="spacingAndGlyphs">Wavelength</tspan> <tspan x="326.3" textLength="63.25" lengthAdjust="spacingAndGlyphs">(nm)</tspan></text>
<text transform="translate(31.3,255.6) rotate(-90) scale(0.91,1)" font-size="25" x="-0.44 16.82 36.70 51.80 69.41 81.41 97.00 114.97 133.10 148.26" y="0">Absorbance</text>
<text transform="translate(539.2,349.4) rotate(-90)" font-size="27"><tspan x="0" textLength="149.3" lengthAdjust="spacingAndGlyphs">Normalized</tspan> <tspan x="159.6" textLength="151" lengthAdjust="spacingAndGlyphs">absorbance</tspan></text>
</svg>
</body></html>
